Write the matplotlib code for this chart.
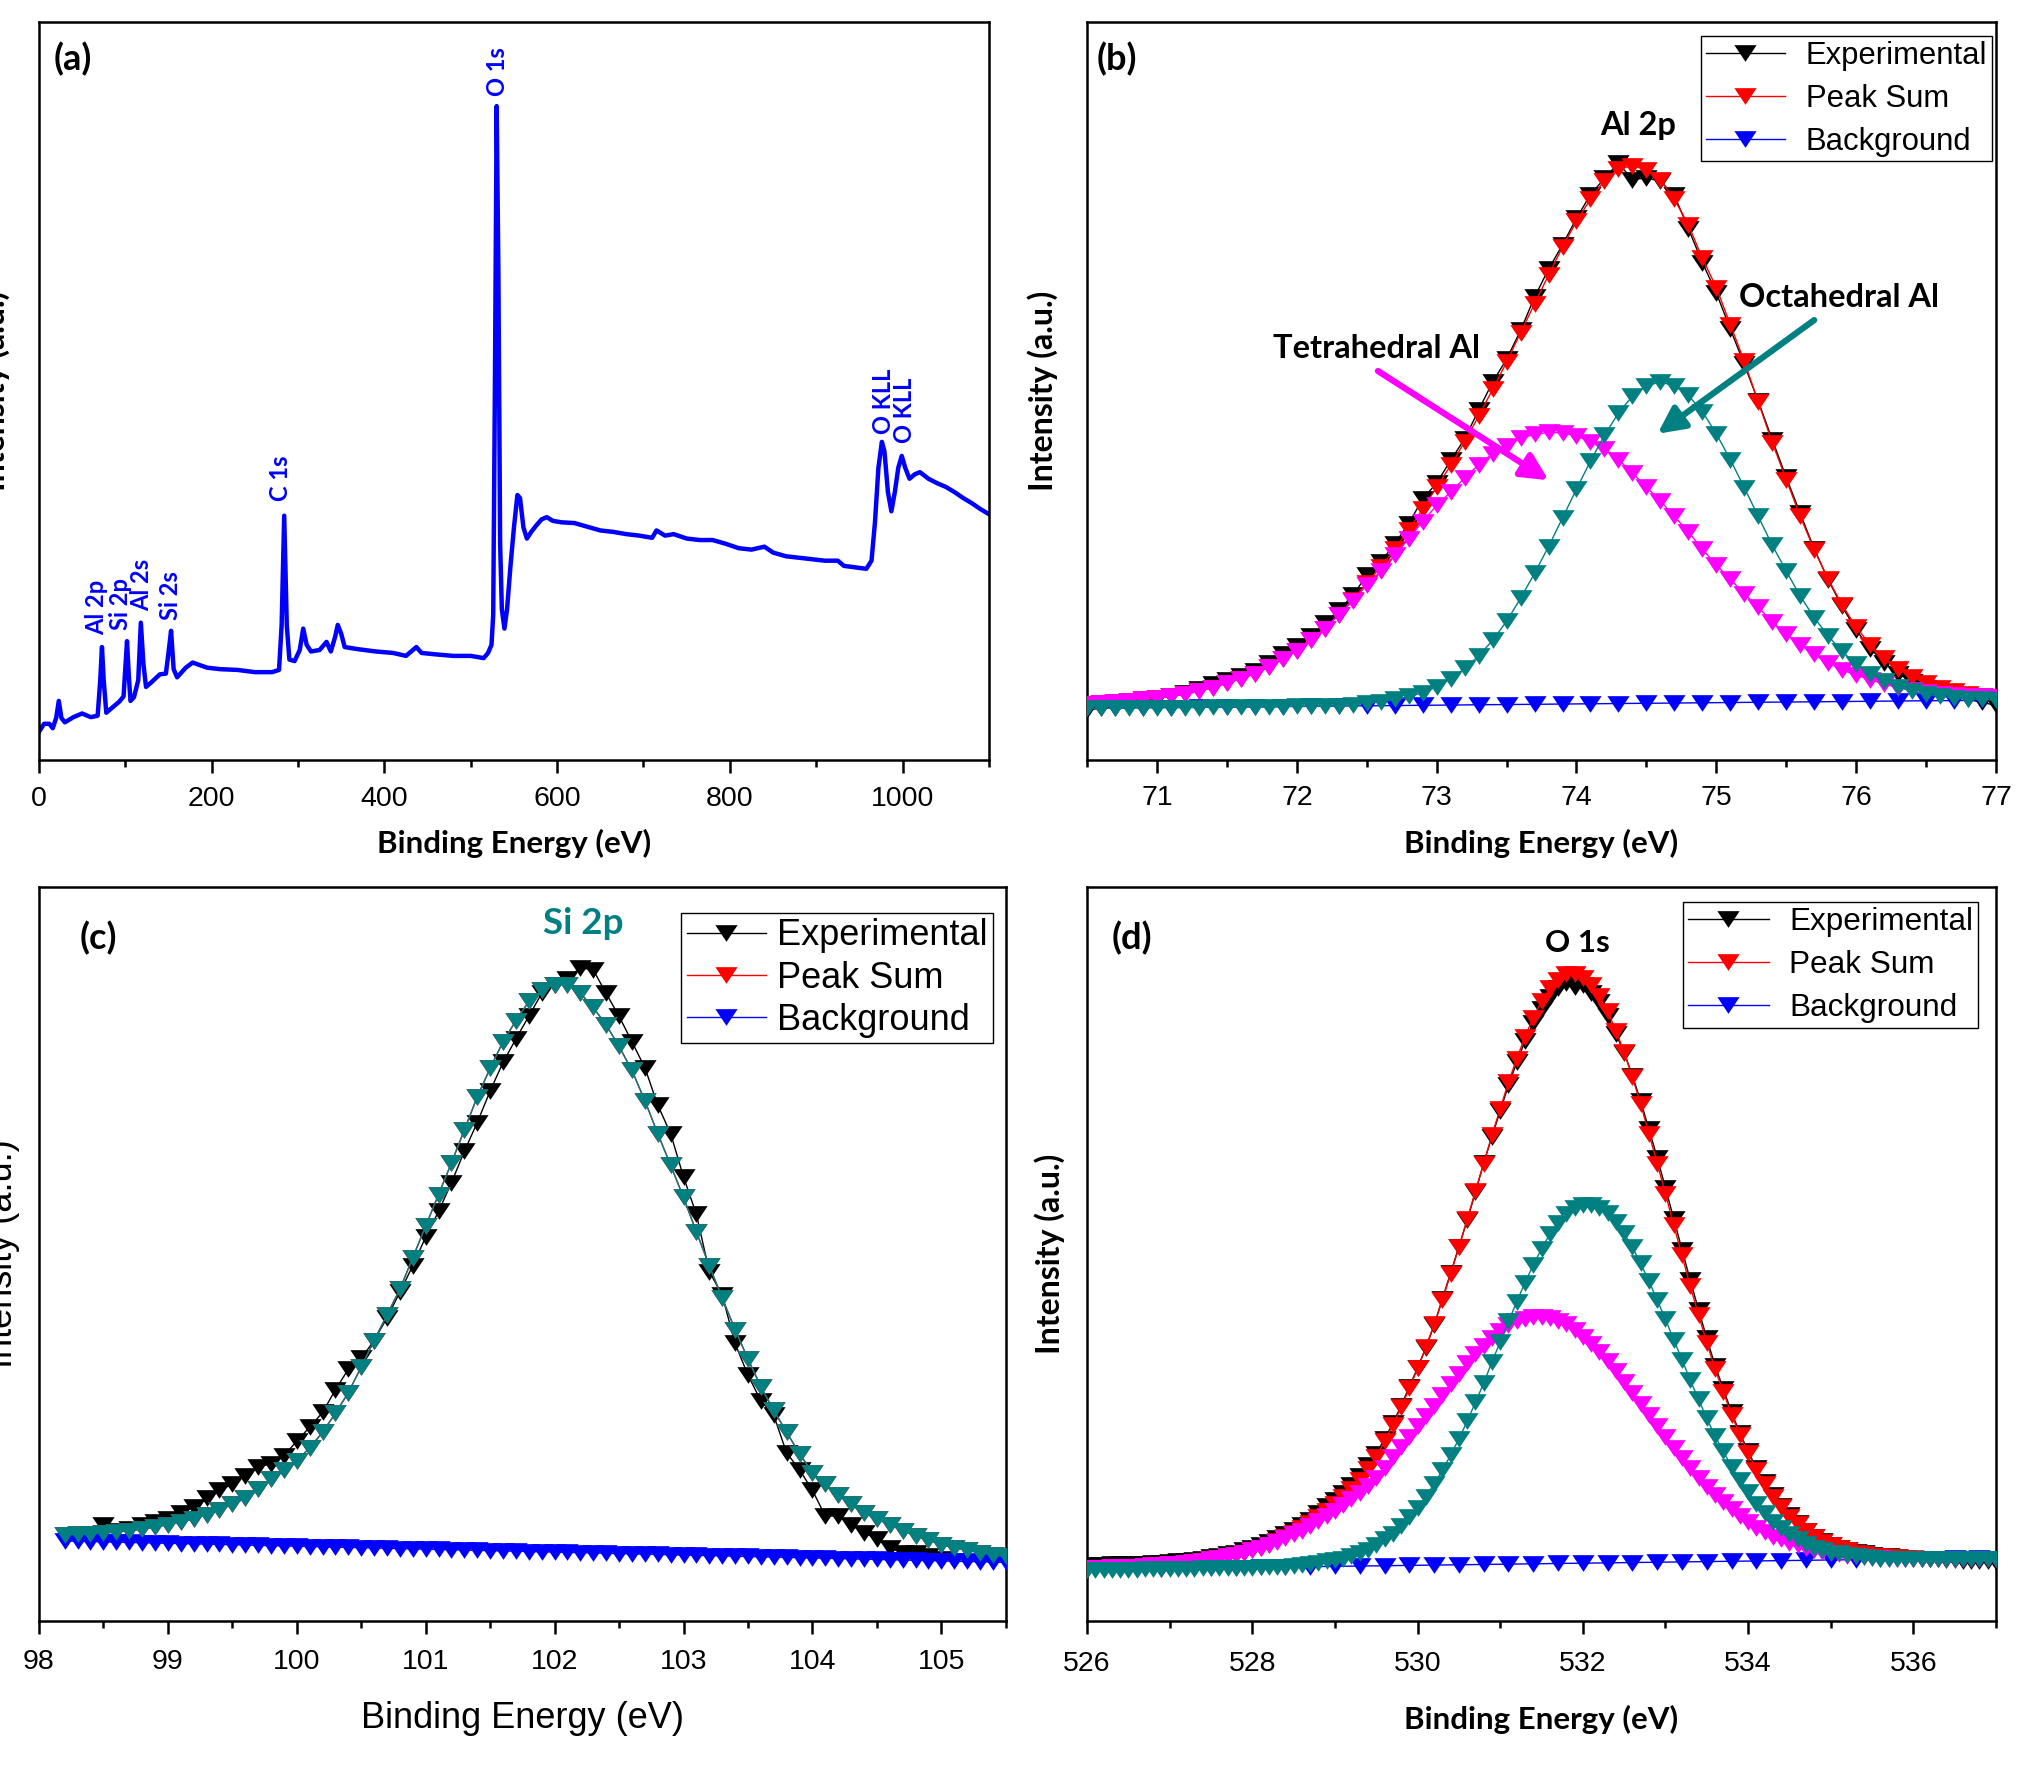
import numpy as np
import matplotlib.pyplot as plt
from matplotlib.ticker import MultipleLocator

plt.rcParams['font.family'] = ['Liberation Sans', 'DejaVu Sans']

# ---------------- (a) survey spectrum ----------------
survey_ev = [0, 6, 12, 16, 20, 23, 26, 30, 40, 50, 60, 68, 71, 73, 75, 78, 85, 93, 98, 100,
             102, 104, 106, 110, 115, 118, 121, 124, 130, 140, 147, 150, 153, 156, 160, 170,
             178, 185, 195, 210, 230, 250, 270, 278, 281, 284, 287, 290, 296, 302, 306, 310,
             315, 325, 333, 338, 343, 346, 350, 354, 370, 390, 410, 425, 437, 443, 460, 480,
             500, 515, 520, 524, 526, 528, 530, 532, 534, 536, 539, 542, 546, 550, 554, 557,
             561, 565, 570, 576, 582, 588, 595, 605, 620, 635, 650, 665, 680, 695, 710, 715,
             725, 735, 750, 765, 780, 795, 810, 825, 840, 850, 865, 880, 895, 910, 925, 932,
             945, 958, 964, 968, 972, 976, 979, 983, 987, 991, 995, 999, 1003, 1008, 1014,
             1020, 1030, 1040, 1050, 1060, 1070, 1080, 1090, 1100]
survey_int = [3.8, 4.9, 4.9, 4.3, 5.7, 8.0, 5.7, 5.1, 5.8, 6.3, 5.8, 6.0, 10.8, 15.3, 10.8, 6.4,
              7.1, 7.9, 8.6, 12.3, 16.1, 11.6, 8.0, 8.5, 10.8, 18.6, 13.0, 9.9, 10.5, 11.6, 11.7,
              14.5, 17.5, 12.3, 11.2, 12.5, 13.2, 12.9, 12.5, 12.3, 12.2, 11.9, 11.9, 12.2, 18.2,
              33.1, 18.2, 13.6, 13.4, 14.9, 17.8, 15.6, 14.7, 14.9, 16.0, 14.7, 16.7, 18.3, 17.1,
              15.3, 15.0, 14.7, 14.5, 14.1, 15.3, 14.5, 14.3, 14.1, 14.1, 13.8, 14.5, 15.6, 19.7,
              51.4, 88.6, 66.1, 29.3, 20.4, 17.8, 20.4, 26.3, 31.5, 35.9, 35.5, 31.5, 30.0, 30.9,
              31.8, 32.6, 32.9, 32.4, 32.2, 32.1, 31.6, 31.1, 30.9, 30.6, 30.4, 30.1, 31.1, 30.4,
              30.6, 30.0, 29.8, 29.8, 29.3, 28.7, 28.5, 28.9, 28.1, 27.6, 27.4, 27.2, 27.0, 27.0,
              26.3, 26.1, 25.9, 27.0, 32.2, 39.6, 43.1, 41.8, 36.3, 33.7, 36.3, 39.6, 41.2, 39.6,
              38.1, 38.7, 39.0, 38.1, 37.5, 37.0, 36.3, 35.5, 34.8, 34.0, 33.3]
peak_names = ['Al 2p', 'Si 2p', 'Al 2s', 'Si 2s', 'C 1s', 'O 1s', 'O KLL', 'O KLL']
peak_ev = [67, 94, 119, 152, 280, 530.5, 978, 1002]
peak_lab_y = [16.9, 17.6, 20.2, 19.0, 35.1, 89.9, 44.2, 42.9]

# ---------------- (b) Al 2p ----------------
al_ev = np.round(np.arange(70.5, 77.05, 0.1), 1)
al_exp = [6.8, 7.0, 7.2, 7.6, 7.9,
          8.3, 8.7, 9.1, 9.6, 10.3, 10.8, 11.4, 12.1, 13.1, 14.3,
          15.4, 16.8, 18.5, 20.3, 22.3, 25.0, 26.8, 29.3, 32.0, 35.4,
          37.5, 40.6, 43.5, 47.4, 51.2, 54.3, 58.2, 62.7, 66.5, 69.8,
          73.4, 76.6, 78.8, 80.9, 78.6, 78.9, 78.4, 76.5, 72.0, 67.4,
          63.3, 58.4, 53.6, 48.6, 43.4, 38.3, 33.4, 28.6, 24.4, 20.8,
          17.6, 15.1, 13.2, 11.7, 10.6, 9.8, 9.2, 8.6, 8.2, 7.8,
          7.4]
al_sum = [7.6, 7.7, 7.8, 8.0, 8.2,
          8.4, 8.6, 8.9, 9.3, 9.8, 10.4, 11.0, 11.7, 12.6, 13.7,
          14.8, 16.3, 17.8, 19.7, 21.7, 24.0, 26.1, 28.6, 31.2, 34.0,
          37.0, 39.9, 43.1, 46.6, 50.2, 53.9, 57.9, 61.8, 65.7, 69.5,
          73.0, 76.0, 78.5, 80.1, 80.5, 80.0, 78.6, 76.0, 72.5, 68.0,
          64.0, 59.0, 54.0, 48.5, 43.0, 38.0, 33.0, 28.5, 24.5, 21.0,
          18.0, 15.6, 13.8, 12.3, 11.2, 10.4, 9.8, 9.3, 9.0, 8.7,
          8.5]
al_tet = [7.6, 7.7, 7.8, 8.0, 8.2,
          8.4, 8.6, 8.9, 9.3, 9.8, 10.4, 11.0, 11.7, 12.6, 13.7,
          14.8, 16.3, 17.8, 19.7, 21.5, 23.7, 25.6, 27.8, 30.0, 32.3,
          34.5, 36.3, 38.2, 40.0, 41.5, 42.6, 43.6, 44.1, 44.4, 44.3,
          43.9, 43.1, 42.1, 40.7, 38.9, 37.0, 35.1, 33.0, 30.9, 28.6,
          26.4, 24.5, 22.5, 20.7, 18.7, 17.1, 15.6, 14.3, 13.1, 12.2,
          11.5, 10.9, 10.3, 9.8, 9.5, 9.2, 9.0, 8.8, 8.7, 8.6,
          8.5]
al_oct = [7.0, 7.0, 7.0, 7.1, 7.1,
          7.1, 7.1, 7.1, 7.1, 7.2, 7.2, 7.2, 7.2, 7.2, 7.2,
          7.3, 7.3, 7.3, 7.3, 7.5, 7.7, 7.9, 8.2, 8.6, 9.1,
          9.9, 11.0, 12.4, 14.1, 16.2, 18.8, 21.9, 25.3, 28.9, 32.8,
          36.7, 40.5, 44.0, 47.0, 49.3, 50.7, 51.2, 50.7, 49.4, 47.2,
          44.2, 40.7, 36.9, 33.0, 29.1, 25.6, 22.2, 19.3, 16.8, 14.7,
          13.0, 11.7, 10.7, 9.9, 9.3, 8.9, 8.6, 8.4, 8.3, 8.2,
          8.1]
al_bg_ev = np.round(np.arange(70.5, 76.95, 0.2), 1)
al_bg = [7.00, 7.03, 7.07, 7.10, 7.14, 7.17, 7.20, 7.24, 7.27, 7.31, 7.34, 7.37, 7.41, 7.44,
         7.48, 7.51, 7.54, 7.58, 7.61, 7.65, 7.68, 7.71, 7.75, 7.78, 7.82, 7.85, 7.88, 7.92,
         7.95, 7.99, 8.02, 8.05, 8.09]

# ---------------- (c) Si 2p ----------------
si_ev = np.round(np.arange(98.2, 105.55, 0.1), 1)
si_exp_ev = np.round(np.arange(98.5, 105.05, 0.1), 1)
si_exp = [13.1, 12.2, 12.5, 13.1, 13.5,
          13.9, 14.7, 15.5, 16.7, 17.8, 18.6, 19.8, 21.0, 21.4, 22.5,
          24.5, 26.4, 28.4, 31.5, 34.3, 35.8, 38.2, 41.3, 44.8, 48.4,
          52.3, 55.8, 59.7, 64.0, 67.9, 72.2, 76.1, 79.3, 82.4, 85.5,
          86.7, 87.5, 89.0, 88.7, 85.5, 82.4, 78.9, 75.4, 70.3, 66.4,
          60.5, 55.4, 47.6, 44.4, 37.8, 33.5, 30.0, 28.0, 22.9, 20.6,
          17.8, 14.3, 14.3, 13.1, 12.0, 11.2, 10.0, 9.2, 9.2, 8.8,
          8.5]
si_fit = [11.7, 11.8, 11.9, 12.0, 12.1, 12.3, 12.5, 12.8,
          13.1, 13.5, 13.9, 14.5, 15.1, 15.9, 16.7, 18.0, 19.4, 20.6,
          21.8, 23.6, 25.7, 28.3, 31.1, 34.6, 38.2, 41.7, 45.2, 49.5,
          53.8, 58.1, 62.4, 66.9, 71.4, 75.3, 78.9, 81.8, 84.4, 85.9,
          86.7, 86.7, 85.5, 83.6, 81.2, 78.3, 75.0, 70.9, 66.4, 62.1,
          57.7, 53.0, 48.4, 44.0, 39.7, 35.7, 31.9, 28.7, 25.7, 22.8,
          20.2, 18.6, 17.1, 15.9, 14.7, 13.9, 13.1, 12.3, 11.6, 11.0,
          10.4, 10.0, 9.6, 9.3, 9.0, 8.8]
si_bg = [10.90, 10.86, 10.82, 10.78, 10.74, 10.70, 10.66, 10.62,
         10.58, 10.54, 10.50, 10.46, 10.42, 10.38, 10.34, 10.30, 10.26, 10.22,
         10.18, 10.14, 10.10, 10.06, 10.02, 9.98, 9.94, 9.90, 9.86, 9.82,
         9.78, 9.74, 9.70, 9.66, 9.62, 9.58, 9.54, 9.50, 9.46, 9.42,
         9.38, 9.34, 9.30, 9.26, 9.22, 9.18, 9.14, 9.10, 9.06, 9.02,
         8.98, 8.94, 8.90, 8.86, 8.82, 8.78, 8.74, 8.70, 8.66, 8.62,
         8.58, 8.54, 8.50, 8.46, 8.42, 8.38, 8.34, 8.30, 8.26, 8.22,
         8.18, 8.14, 8.10, 8.06, 8.02, 7.98]

# ---------------- (d) O 1s ----------------
o_ev = np.round(np.arange(526.0, 537.05, 0.1), 1)
o_exp = [7.6, 7.6, 7.6, 7.7, 7.7, 7.7, 7.8, 7.8, 7.9, 7.9,
         8.0, 8.1, 8.2, 8.3, 8.5, 8.7, 8.9, 9.1, 9.3, 9.6,
         9.9, 10.3, 10.8, 11.3, 11.9, 12.4, 13.1, 13.8, 14.7, 15.6,
         16.5, 17.4, 18.5, 19.7, 21.2, 22.8, 24.8, 26.9, 29.3, 31.9,
         34.5, 37.2, 40.3, 43.9, 47.4, 51.0, 54.6, 58.4, 62.4, 66.0,
         69.5, 73.0, 76.1, 79.0, 81.5, 83.4, 85.0, 86.2, 86.9, 86.4,
         86.7, 85.6, 84.3, 82.4, 80.0, 77.4, 74.3, 70.8, 67.0, 63.1,
         59.0, 54.8, 50.6, 46.4, 42.4, 38.5, 34.8, 31.6, 28.4, 25.6,
         23.1, 20.8, 18.9, 17.1, 15.7, 14.4, 13.3, 12.3, 11.5, 10.9,
         10.4, 10.0, 9.7, 9.4, 9.2, 9.0, 8.9, 8.8, 8.7, 8.6,
         8.5, 8.5, 8.4, 8.4, 8.3, 8.3, 8.2, 8.2, 8.1, 8.1,
         8.0]
o_sum = [7.2, 7.2, 7.2, 7.3, 7.3, 7.3, 7.4, 7.5, 7.6, 7.6,
         7.7, 7.8, 7.9, 8.0, 8.2, 8.4, 8.6, 8.8, 9.0, 9.3,
         9.6, 10.0, 10.4, 10.9, 11.5, 12.0, 12.6, 13.3, 14.1, 15.0,
         15.9, 16.9, 18.0, 19.2, 20.7, 22.4, 24.5, 26.7, 29.1, 31.7,
         34.4, 37.3, 40.4, 43.7, 47.3, 50.9, 54.7, 58.6, 62.3, 66.2,
         69.8, 73.4, 76.6, 79.6, 82.2, 84.4, 86.2, 87.3, 88.1, 88.1,
         87.6, 86.6, 85.1, 83.1, 80.4, 77.5, 74.1, 70.4, 66.4, 62.3,
         58.2, 53.9, 49.8, 45.6, 41.7, 37.9, 34.3, 31.2, 28.1, 25.4,
         22.9, 20.6, 18.7, 16.9, 15.5, 14.2, 13.2, 12.2, 11.4, 10.8,
         10.3, 10.0, 9.6, 9.3, 9.1, 8.9, 8.8, 8.7, 8.7, 8.6,
         8.6, 8.5, 8.5, 8.5, 8.5, 8.5, 8.5, 8.5, 8.5, 8.5,
         8.5]
o_low = [7.2, 7.2, 7.2, 7.3, 7.3, 7.3, 7.4, 7.5, 7.6, 7.6,
         7.7, 7.8, 7.9, 8.0, 8.2, 8.4, 8.6, 8.8, 9.0, 9.3,
         9.6, 10.0, 10.4, 10.8, 11.3, 11.8, 12.3, 12.9, 13.6, 14.3,
         15.0, 15.8, 16.6, 17.4, 18.4, 19.5, 20.9, 22.3, 23.7, 25.1,
         26.5, 27.9, 29.3, 30.8, 32.3, 33.7, 35.1, 36.4, 37.5, 38.6,
         39.5, 40.3, 40.8, 41.2, 41.4, 41.4, 41.3, 40.9, 40.4, 39.6,
         38.7, 37.7, 36.6, 35.4, 34.0, 32.6, 31.1, 29.6, 28.0, 26.5,
         25.1, 23.6, 22.2, 20.8, 19.5, 18.3, 17.1, 16.2, 15.2, 14.3,
         13.5, 12.7, 12.1, 11.5, 11.1, 10.6, 10.3, 9.9, 9.6, 9.4,
         9.2, 9.1, 8.9, 8.8, 8.7, 8.6, 8.6, 8.5, 8.5, 8.5,
         8.5, 8.5, 8.5, 8.4, 8.4, 8.5, 8.5, 8.5, 8.5, 8.5,
         8.5]
o_high = [7.0, 7.0, 7.0, 7.0, 7.0, 7.0, 7.0, 7.1, 7.1, 7.1,
          7.1, 7.1, 7.1, 7.1, 7.2, 7.2, 7.2, 7.2, 7.2, 7.2,
          7.2, 7.3, 7.3, 7.4, 7.4, 7.5, 7.6, 7.7, 7.9, 8.1,
          8.3, 8.5, 8.8, 9.2, 9.7, 10.4, 11.1, 11.9, 12.9, 14.1,
          15.4, 16.9, 18.7, 20.5, 22.6, 24.8, 27.2, 29.8, 32.4, 35.3,
          38.0, 40.8, 43.5, 46.1, 48.5, 50.7, 52.7, 54.2, 55.5, 56.3,
          56.7, 56.7, 56.3, 55.6, 54.3, 52.8, 50.9, 48.7, 46.3, 43.7,
          41.1, 38.3, 35.6, 32.8, 30.2, 27.6, 25.2, 23.1, 21.0, 19.2,
          17.5, 16.0, 14.7, 13.5, 12.6, 11.8, 11.1, 10.5, 10.0, 9.6,
          9.3, 9.2, 9.0, 8.8, 8.7, 8.6, 8.5, 8.5, 8.5, 8.5,
          8.4, 8.4, 8.4, 8.4, 8.4, 8.5, 8.5, 8.5, 8.5, 8.5,
          8.5]
o_bg_ev = np.round(np.arange(526.0, 536.85, 0.3), 1)
o_bg = [7.00, 7.04, 7.09, 7.13, 7.17, 7.22, 7.26, 7.30, 7.35, 7.39, 7.44, 7.48, 7.52,
        7.57, 7.61, 7.65, 7.70, 7.74, 7.78, 7.83, 7.87, 7.91, 7.96, 8.00, 8.04, 8.09,
        8.13, 8.17, 8.22, 8.26, 8.31, 8.35, 8.39, 8.44, 8.48, 8.53, 8.57]

# ---------------- styles ----------------
TEAL = '#008080'
tri = [(-1, 0.75), (1, 0.75), (0, -0.75)]   # flat down triangle like Origin
MS = 16
BOLD = dict(fontfamily='Lato', fontweight='bold')


def series(ax, x, y, color, z):
    return ax.plot(x, y, color=color, lw=1.0, marker=tri, ms=MS, mew=0,
                   mfc=color, zorder=z)[0]


def frame(ax, xlim, major, minor, pad):
    ax.set_xlim(*xlim)
    ax.set_ylim(0, 100)
    ax.xaxis.set_major_locator(MultipleLocator(major))
    ax.xaxis.set_minor_locator(MultipleLocator(minor))
    ax.tick_params(axis='x', which='major', direction='out', length=9.5, width=1.8,
                   labelsize=20.5, pad=pad)
    ax.tick_params(axis='x', which='minor', direction='out', length=5, width=1.8)
    ax.tick_params(axis='y', left=False, labelleft=False)
    for s in ax.spines.values():
        s.set_linewidth(1.8)


def legend(ax, handles, anchor, size, hl, htp, ls):
    leg = ax.legend(handles, ['Experimental', 'Peak Sum', 'Background'], loc='upper right',
                    bbox_to_anchor=anchor, borderaxespad=0, fancybox=False,
                    edgecolor='black', framealpha=1, fontsize=size, handlelength=hl,
                    handletextpad=htp, labelspacing=ls, borderpad=0.15)
    leg.get_frame().set_linewidth(1.0)


fig = plt.figure(figsize=(20.27, 17.69), dpi=100)
ax_a = fig.add_axes([0.0192, 0.5704, 0.4687, 0.4172])
ax_b = fig.add_axes([0.5363, 0.5704, 0.4484, 0.4172])
ax_c = fig.add_axes([0.0192, 0.0837, 0.4770, 0.4149])
ax_d = fig.add_axes([0.5363, 0.0837, 0.4484, 0.4149])

# (a)
ax_a.plot(survey_ev, survey_int, color='#0000FF', lw=3.2)
frame(ax_a, (0, 1100), 200, 100, 9.5)
for name, x, y in zip(peak_names, peak_ev, peak_lab_y):
    ax_a.text(x, y, name, rotation=90, ha='center', va='bottom', color='#0000FF',
              fontsize=17, **BOLD)
ax_a.text(0.016, 0.95, '(a)', transform=ax_a.transAxes, ha='left', va='center',
          fontsize=26, **BOLD)
ax_a.set_xlabel('Binding Energy (eV)', fontsize=22.5, **BOLD)
ax_a.xaxis.set_label_coords(0.5, -0.093)
ax_a.set_ylabel('Intensity (a.u.)', fontsize=23, **BOLD)
ax_a.yaxis.set_label_coords(-0.0305, 0.5)

# (b)
h1 = series(ax_b, al_ev, al_exp, 'black', 2)
h2 = series(ax_b, al_ev, al_sum, '#FF0000', 3)
h3 = series(ax_b, al_bg_ev, al_bg, '#0000FF', 4)
series(ax_b, al_ev, al_tet, '#FF00FF', 5)
series(ax_b, al_ev, al_oct, TEAL, 6)
frame(ax_b, (70.5, 77), 1, 0.5, 8.5)
legend(ax_b, [h1, h2, h3], (0.9956, 0.981), 22.3, 2.55, 0.68, 0.42)
ax_b.text(74.44, 86, 'Al 2p', ha='center', va='center', fontsize=23.5, **BOLD)
ax_b.text(75.16, 62.6, 'Octahedral Al', ha='left', va='center', fontsize=23.5, **BOLD)
ax_b.text(71.83, 55.8, 'Tetrahedral Al', ha='left', va='center', fontsize=23.5, **BOLD)
ax_b.annotate('', xy=(73.80, 37.9), xytext=(72.58, 52.7),
              arrowprops=dict(arrowstyle='-|>', color='#FF00FF', lw=4.5,
                              mutation_scale=40, shrinkA=0, shrinkB=0), zorder=8)
ax_b.annotate('', xy=(74.58, 44.2), xytext=(75.70, 59.6),
              arrowprops=dict(arrowstyle='-|>', color=TEAL, lw=4.5,
                              mutation_scale=40, shrinkA=0, shrinkB=0), zorder=8)
ax_b.text(0.01, 0.95, '(b)', transform=ax_b.transAxes, ha='left', va='center',
          fontsize=26, **BOLD)
ax_b.set_xlabel('Binding Energy (eV)', fontsize=22.5, **BOLD)
ax_b.xaxis.set_label_coords(0.5, -0.093)
ax_b.set_ylabel('Intensity (a.u.)', fontsize=23, **BOLD)
ax_b.yaxis.set_label_coords(-0.032, 0.5)

# (c)
h1 = series(ax_c, si_exp_ev, si_exp, 'black', 2)
h2 = series(ax_c, si_ev, si_fit, '#FF0000', 3)
h3 = series(ax_c, si_ev, si_bg, '#0000FF', 4)
series(ax_c, si_ev, si_fit, TEAL, 6)
frame(ax_c, (98, 105.5), 1, 0.5, 11)
legend(ax_c, [h1, h2, h3], (0.9866, 0.9646), 26, 2.2, 0.3, 0.2)
ax_c.text(102.22, 95, 'Si 2p', ha='center', va='center', color=TEAL, fontsize=26.5, **BOLD)
ax_c.text(0.042, 0.93, '(c)', transform=ax_c.transAxes, ha='left', va='center',
          fontsize=26, **BOLD)
ax_c.set_xlabel('Binding Energy (eV)', fontsize=26)
ax_c.xaxis.set_label_coords(0.5, -0.109)
ax_c.set_ylabel('Intensity (a.u.)', fontsize=26)
ax_c.yaxis.set_label_coords(-0.0196, 0.5)

# (d)
h1 = series(ax_d, o_ev, o_exp, 'black', 2)
h2 = series(ax_d, o_ev, o_sum, '#FF0000', 3)
h3 = series(ax_d, o_bg_ev, o_bg, '#0000FF', 4)
series(ax_d, o_ev, o_low, '#FF00FF', 5)
series(ax_d, o_ev, o_high, TEAL, 6)
frame(ax_d, (526, 537), 2, 1, 12.5)
legend(ax_d, [h1, h2, h3], (0.980, 0.9796), 22.7, 2.55, 0.65, 0.42)
ax_d.text(531.93, 92.4, 'O 1s', ha='center', va='center', fontsize=22.5, **BOLD)
ax_d.text(0.027, 0.93, '(d)', transform=ax_d.transAxes, ha='left', va='center',
          fontsize=26, **BOLD)
ax_d.set_xlabel('Binding Energy (eV)', fontsize=22.5, **BOLD)
ax_d.xaxis.set_label_coords(0.5, -0.115)
ax_d.set_ylabel('Intensity (a.u.)', fontsize=23, **BOLD)
ax_d.yaxis.set_label_coords(-0.024, 0.5)

fig.savefig('out.png', dpi=100)
